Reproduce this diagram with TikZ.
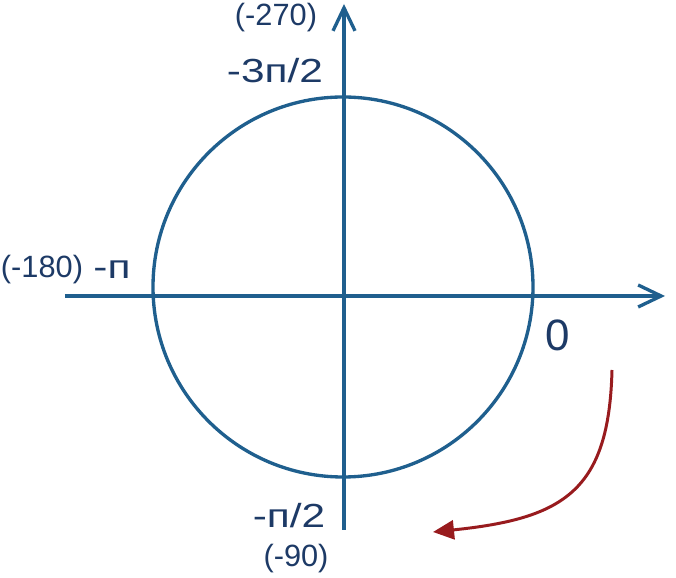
\documentclass[tikz,border=0pt]{standalone}
\usepackage{fontspec}
\setmainfont{Liberation Sans}
\newfontfamily\widesans[FakeStretch=1.27]{Liberation Sans}
\usetikzlibrary{arrows.meta}
\definecolor{axisblue}{HTML}{1F5F8E}
\definecolor{textblue}{HTML}{1D3A66}
\definecolor{arcred}{HTML}{981B1E}
\begin{document}
\begin{tikzpicture}[>={Straight Barb[length=4.6mm,width=4.4mm]},line width=1.9pt,
    lbl/.style={text=textblue,inner sep=0pt,font=\fontsize{17.5}{20}\selectfont},
    pilbl/.style={text=textblue,inner sep=0pt,font=\widesans\fontsize{19}{22}\selectfont}]
    \useasboundingbox(-6.88,-5.64)rectangle(6.64,5.92);
    \draw[axisblue,->](-5.58,0)--(6.42,0);
    \draw[axisblue,->](0,-4.68)--(0,5.84);
    \draw[axisblue](-0.02,0.18)circle(3.8);
    \node[lbl](m270)at(-1.36,5.56){(-270)};
    \node[pilbl](m3pi)at(-1.38,4.50){-3п/2};
    \node[lbl](m180)at(-6.04,0.52){(-180)};
    \node[pilbl](mpi)at(-4.64,0.52){-п};
    \node[lbl,font=\fontsize{25}{29}\selectfont](zero)at(4.28,-0.78){0};
    \node[pilbl](mpi2)at(-1.10,-4.40){-п/2};
    \node[lbl](m90)at(-0.96,-5.26){(-90)};
    \coordinate(rs)at(5.36,-1.48);
    \coordinate(re)at(1.78,-4.72);
    \draw[arcred,line width=1.7pt,-{Triangle[length=4.2mm,width=3.8mm]}](rs)..controls(5.3,-3.9)and(4.4,-4.45)..(re);
\end{tikzpicture}
\end{document}
